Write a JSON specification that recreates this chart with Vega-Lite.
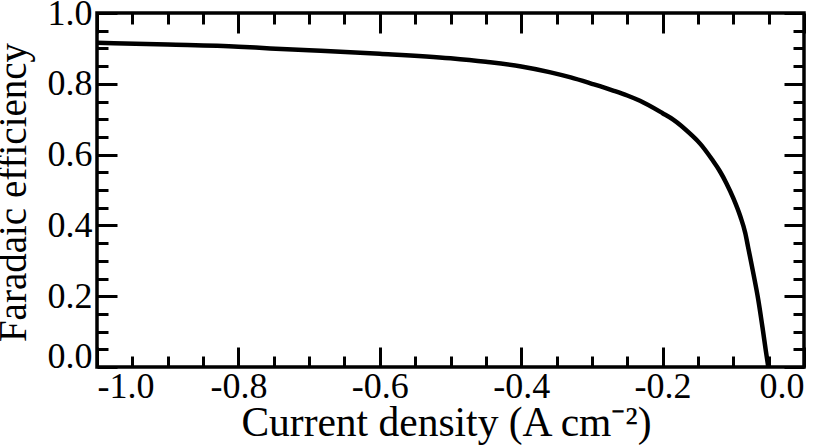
{
  "$schema": "https://vega.github.io/schema/vega-lite/v6.json",
  "width": 707,
  "height": 354,
  "autosize": "none",
  "padding": {"left": 97, "top": 13, "right": 21, "bottom": 78},
  "background": "white",
  "config": {
    "view": {"stroke": "black", "strokeWidth": 3.5},
    "font": "Liberation Serif",
    "axis": {
      "domain": false,
      "grid": false,
      "tickColor": "black",
      "tickWidth": 3,
      "labelColor": "black",
      "titleColor": "black",
      "labelFont": "Liberation Serif",
      "titleFont": "Liberation Serif",
      "labelFontSize": 36,
      "titleFontSize": 41,
      "titleFontWeight": "normal"
    }
  },
  "data": {
    "values": [
      {"j": -1.0, "fe": 0.916},
      {"j": -0.9, "fe": 0.911},
      {"j": -0.8, "fe": 0.905},
      {"j": -0.755, "fe": 0.9},
      {"j": -0.7, "fe": 0.895},
      {"j": -0.6, "fe": 0.885},
      {"j": -0.5, "fe": 0.872},
      {"j": -0.45, "fe": 0.862},
      {"j": -0.4, "fe": 0.849},
      {"j": -0.36, "fe": 0.833},
      {"j": -0.33, "fe": 0.818},
      {"j": -0.3, "fe": 0.8},
      {"j": -0.27, "fe": 0.781},
      {"j": -0.25, "fe": 0.767},
      {"j": -0.232, "fe": 0.752},
      {"j": -0.2, "fe": 0.717},
      {"j": -0.185, "fe": 0.699},
      {"j": -0.16, "fe": 0.657},
      {"j": -0.147, "fe": 0.631},
      {"j": -0.13, "fe": 0.586},
      {"j": -0.119, "fe": 0.553},
      {"j": -0.11, "fe": 0.52},
      {"j": -0.1, "fe": 0.477},
      {"j": -0.09, "fe": 0.425},
      {"j": -0.083, "fe": 0.378},
      {"j": -0.079, "fe": 0.338},
      {"j": -0.072, "fe": 0.268},
      {"j": -0.0646, "fe": 0.189},
      {"j": -0.058, "fe": 0.102},
      {"j": -0.054, "fe": 0.046},
      {"j": -0.0505, "fe": 0.0}
    ]
  },
  "layer": [
    {
      "mark": {"type": "line", "color": "black", "strokeWidth": 4.5, "interpolate": "monotone", "clip": true},
      "encoding": {
        "x": {
          "field": "j", "type": "quantitative",
          "scale": {"domain": [-1, 0], "nice": false, "zero": false},
          "axis": {
            "orient": "bottom",
            "title": "Current density (A cm⁻²)",
            "titleFont": "Liberation Serif",
            "titleFontSize": 41.5,
            "labelFont": "Liberation Serif",
            "labelFontSize": 36,
            "values": [-1, -0.95, -0.9, -0.85, -0.8, -0.75, -0.7, -0.65, -0.6, -0.55, -0.5, -0.45, -0.4, -0.35, -0.3, -0.25, -0.2, -0.15, -0.1, -0.05, 0],
            "tickSize": {"condition": {"test": "round(datum.value*20) % 4 == 0", "value": -20}, "value": -11},
            "labelExpr": "round(datum.value*20) % 4 == 0 ? replace(format(datum.value, '.1f'), '−', '-') : ''",
            "labelPadding": 22,
            "titleBaseline": "alphabetic",
            "titleX": 349,
            "titleY": 68
          }
        },
        "y": {
          "field": "fe", "type": "quantitative",
          "scale": {"domain": [0, 1], "nice": false},
          "axis": {
            "orient": "left",
            "title": "Faradaic efficiency",
            "titleFont": "Liberation Serif",
            "titleFontSize": 39,
            "labelFont": "Liberation Serif",
            "labelFontSize": 36,
            "values": [0, 0.05, 0.1, 0.15, 0.2, 0.25, 0.3, 0.35, 0.4, 0.45, 0.5, 0.55, 0.6, 0.65, 0.7, 0.75, 0.8, 0.85, 0.9, 0.95, 1],
            "tickSize": {"condition": {"test": "round(datum.value*20) % 4 == 0", "value": -20}, "value": -11},
            "labelExpr": "round(datum.value*20) % 4 == 0 ? format(datum.value, '.1f') : ''",
            "labelBaseline": {"condition": {"test": "datum.value == 0", "value": "alphabetic"}, "value": "middle"},
            "labelPadding": 25,
            "titleBaseline": "alphabetic",
            "titleX": -72,
            "titleY": 179
          }
        }
      }
    },
    {
      "mark": {"type": "line", "strokeOpacity": 0},
      "encoding": {
        "x": {
          "field": "j", "type": "quantitative",
          "axis": {
            "orient": "top",
            "title": null,
            "labels": false,
            "values": [-1, -0.95, -0.9, -0.85, -0.8, -0.75, -0.7, -0.65, -0.6, -0.55, -0.5, -0.45, -0.4, -0.35, -0.3, -0.25, -0.2, -0.15, -0.1, -0.05, 0],
            "tickSize": {"condition": {"test": "round(datum.value*20) % 4 == 0", "value": -20}, "value": -11}
          }
        },
        "y": {
          "field": "fe", "type": "quantitative",
          "axis": {
            "orient": "right",
            "title": null,
            "labels": false,
            "values": [0, 0.05, 0.1, 0.15, 0.2, 0.25, 0.3, 0.35, 0.4, 0.45, 0.5, 0.55, 0.6, 0.65, 0.7, 0.75, 0.8, 0.85, 0.9, 0.95, 1],
            "tickSize": {"condition": {"test": "round(datum.value*20) % 4 == 0", "value": -20}, "value": -11}
          }
        }
      }
    }
  ],
  "resolve": {"axis": {"x": "independent", "y": "independent"}}
}
